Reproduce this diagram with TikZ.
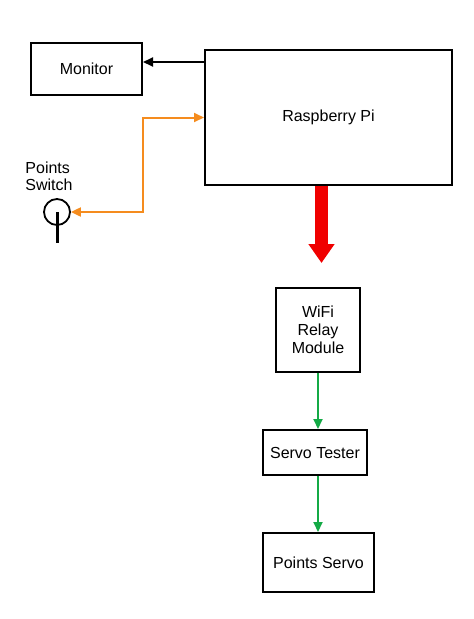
\documentclass[tikz,border=0pt]{standalone}
\usepackage{fontspec}
\setmainfont{Liberation Sans}
\usetikzlibrary{arrows.meta}
\definecolor{wireorange}{RGB}{245,140,30}
\definecolor{wiregreen}{RGB}{20,170,70}
\definecolor{bigred}{RGB}{240,0,0}
\tikzset{
  block/.style={draw,line width=2,align=center,inner sep=0pt,
    font=\fontsize{16}{18}\selectfont},
  wire/.style={line width=2,-{Triangle[length=10pt,width=9pt]}},
}

\begin{document}
\begin{tikzpicture}[x=1pt,y=-1pt]
  \useasboundingbox (0,0) rectangle (474,619);
  \node[block,minimum width=111,minimum height=52] (mon) at (86.5,69) {Monitor};
  \node[block,minimum width=247,minimum height=135] (rpi) at (328.5,117.5) {Raspberry Pi};
  \node[block,minimum width=84,minimum height=84] (wifi) at (318,330) {WiFi\\Relay\\Module};
  \node[block,minimum width=104,minimum height=45] (tester) at (315,452.5) {Servo Tester};
  \node[block,minimum width=111,minimum height=59] (servo) at (318.5,562.5) {Points Servo};
  % points switch
  \node[draw,circle,line width=1.8,minimum size=26,inner sep=0pt] (sw) at (57,212) {};
  \node[align=left,inner sep=0pt,font=\fontsize{16}{17}\selectfont] (swlabel) at (49,176) {Points\\Switch};
  \draw[line width=3] (sw.center) -- ++(0,31);
  % connections
  \draw[wire] ([yshift=-13pt]rpi.north west) -- ([yshift=-13pt]rpi.north west -| mon.east);
  \draw[wire,wireorange,{Triangle[length=10pt,width=9pt]}-{Triangle[length=10pt,width=9pt]}]
    (sw.east) -- ++(72,0) |- (rpi.west);
  \coordinate (relayin) at ([xshift=-7pt,yshift=-77pt]rpi.south);
  \draw[bigred,line width=13,-{Triangle[length=19pt,width=25pt]}]
    ([xshift=-7pt]rpi.south) -- (relayin);
  \draw[wire,wiregreen] (wifi.south) -- (wifi.south |- tester.north);
  \draw[wire,wiregreen] (wifi.south |- tester.south) -- (wifi.south |- servo.north);
\end{tikzpicture}
\end{document}
